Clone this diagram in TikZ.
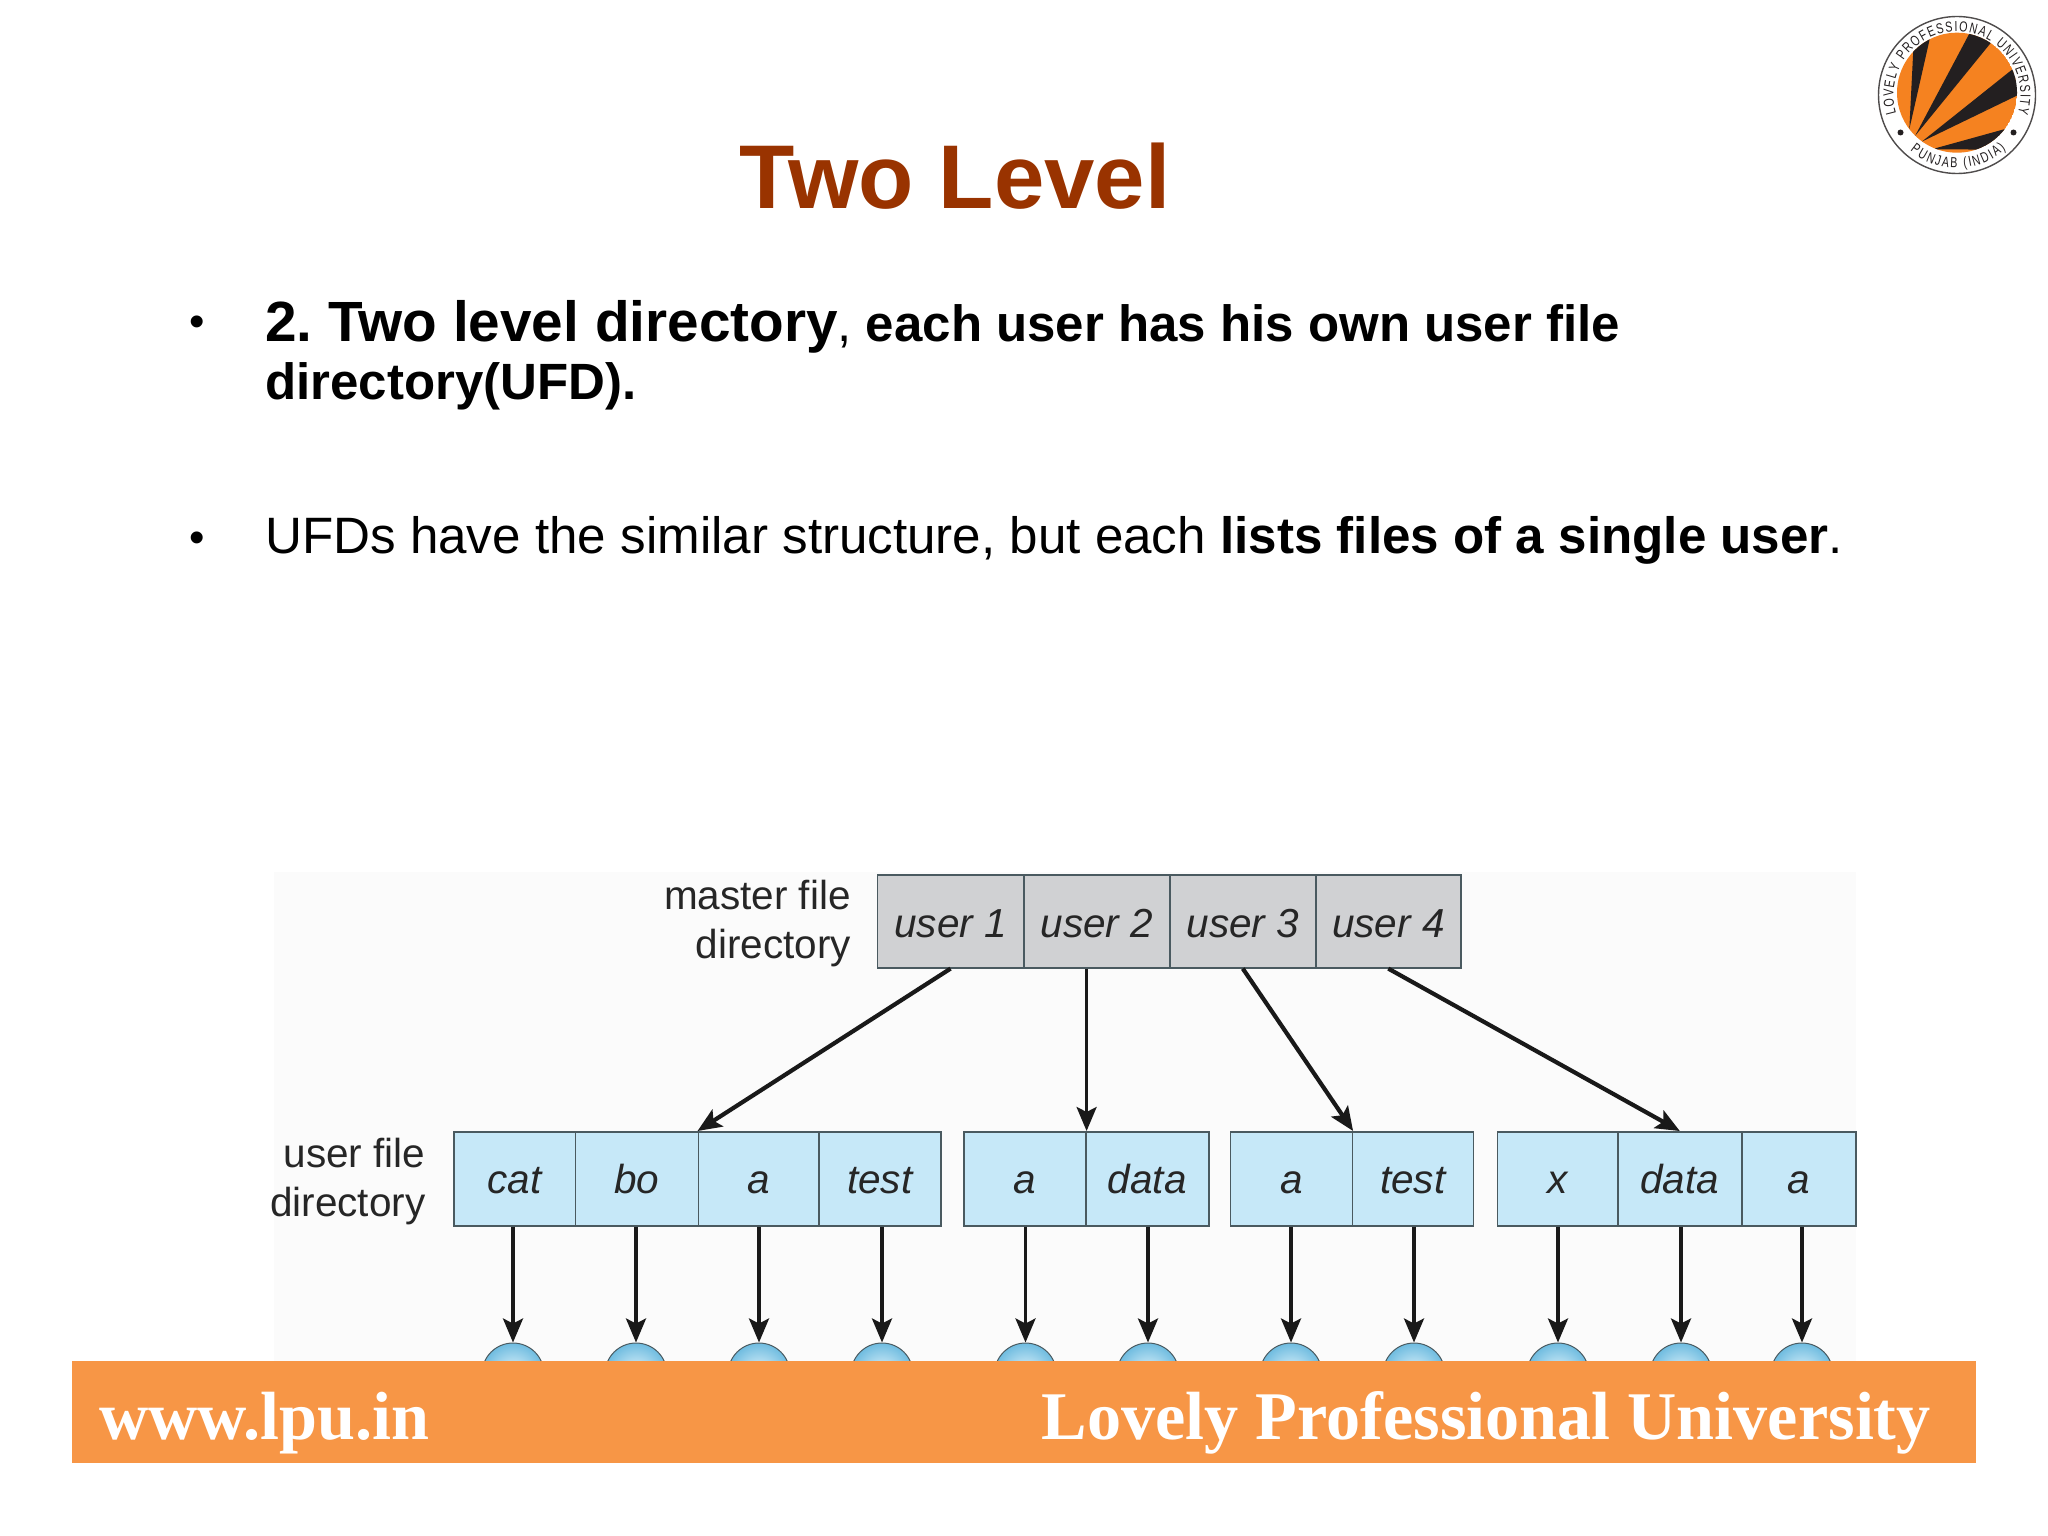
\documentclass[tikz,border=0pt]{standalone}
\usepackage{fontspec}
\setmainfont{Liberation Sans}
\newfontfamily\tms{Liberation Serif}
\newfontfamily\logof[FakeStretch=0.74]{Liberation Sans}
\usetikzlibrary{arrows.meta,decorations.text,calc}
\frenchspacing
\definecolor{titlec}{HTML}{993300}
\definecolor{bandc}{HTML}{F79646}
\definecolor{cellblue}{HTML}{C6E8F8}
\definecolor{cellgray}{HTML}{D0D1D3}
\definecolor{edgec}{HTML}{4A5A60}
\definecolor{logoor}{HTML}{F58220}
\definecolor{logobk}{HTML}{231F20}
\definecolor{ballin}{HTML}{E4F5FC}
\definecolor{ballout}{HTML}{6FBCE0}
\tikzset{
  x=1pt,y=-1pt,
  mfd/.style={draw=edgec,line width=1.6pt,fill=cellgray,minimum height=93pt,inner sep=0pt,anchor=north west,text height=33pt,text depth=0pt,font=\itshape\fontsize{40.5}{40}\selectfont,text=black!85},
  ufd/.style={draw=edgec,line width=1.6pt,fill=cellblue,minimum height=94pt,inner sep=0pt,anchor=north west,text height=30pt,text depth=0pt,font=\itshape\fontsize{40.5}{40}\selectfont,text=black!85},
  lab/.style={align=right,anchor=base east,inner sep=0pt,font=\fontsize{40.5}{48.5}\selectfont,text=black!85},
  fileball/.style={circle,draw=edgec,line width=1pt,minimum size=62pt,inner sep=0pt,inner color=ballin,outer color=ballout},
  arr/.style={-{Stealth[length=24pt,width=20pt,inset=5pt]},line width=3.4pt,draw=black!90},
  slant/.style={arr,line width=4.2pt},
  bodyt/.style={anchor=base west,inner sep=0pt,text=black},
  bandt/.style={inner sep=0pt,text=white,font=\tms\bfseries\fontsize{68.2}{68}\selectfont},
}
\begin{document}
\begin{tikzpicture}
\useasboundingbox (0,0) rectangle (2048,1536);
\fill[white] (0,0) rectangle (2048,1536);
% figure background
\fill[black!1.5] (274,872) rectangle (1856,1361);
% title
\node[anchor=base,inner sep=0pt,text=titlec,font=\bfseries\fontsize{90.5}{90}\selectfont] (title) at (955,208) {Two Level};
% bullets
\node[bodyt,font=\fontsize{44}{44}\selectfont] (b1) at (189,336) {•};
\node[bodyt] (t1) at (265,341) {\fontsize{56.7}{57}\selectfont\bfseries 2. Two level directory\fontsize{51}{51}\selectfont\mdseries, \bfseries each user has his own user file};
\node[bodyt,font=\bfseries\fontsize{51}{51}\selectfont] (t2) at (265,399) {directory(UFD).};
\node[bodyt,font=\fontsize{44}{44}\selectfont] (b2) at (189,552) {•};
\node[bodyt,font=\fontsize{51.15}{51}\selectfont] (t3) at (265,553.5) {UFDs have the similar structure, but each \textbf{lists files of a single user}.};
% master file directory
\node[mfd,minimum width=146.5pt] (u1) at (876.5,874) {user 1};
\node[mfd,minimum width=146pt] (u2) at (1023,874) {user 2};
\node[mfd,minimum width=146pt] (u3) at (1169,874) {user 3};
\node[mfd,minimum width=145pt] (u4) at (1315,874) {user 4};
\node[lab] (mlab) at (851,958) {master file\\directory};
% user file directories
\node[lab] (ulab) at (425.5,1216) {user file\\directory};
\foreach \n/\t/\xa/\w in {c1/cat/453/121.5,c2/bo/574.5/123,c3/a/697.5/120.5,c4/test/818/122,
  d1/a/963/122,d2/data/1085/123,
  e1/a/1229.5/122,e2/test/1351.5/121,
  f1/x/1496.5/120.5,f2/data/1617/124,f3/a/1741/114}
  \node[ufd,minimum width=\w pt] (\n) at (\xa,1131) {\t};
% files
\foreach \n/\xa in {c1/513,c2/636,c3/759,c4/882,d1/1025.5,d2/1148,e1/1291,e2/1414,f1/1558,f2/1681,f3/1802}
  \node[fileball] (ball\n) at (\xa,1374) {};
\foreach \n in {c1,c2,c3,c4,d1,d2,e1,e2,f1,f2,f3}
  \draw[arr] (ball\n.north |- \n.south) -- (ball\n.north);
% links
\draw[slant] (u1.south) -- (c3.north west);
\draw[arr] (u2.south -| d1.north east) -- (d1.north east);
\draw[slant] (u3.south) -- (e1.north east);
\draw[slant] (u4.south) -- (f2.north);
% band
\fill[bandc] (72,1361) rectangle (1976,1463);
\node[bandt,anchor=base west] (www) at (99,1439) {www.lpu.in};
\node[bandt,anchor=base east] (lpu) at (1931,1439) {Lovely Professional University};
% logo
\begin{scope}[shift={(1957,95)},x=1pt,y=1pt]
  \fill[white] (0,0) circle (79);
  \draw[logobk!80,line width=1.4pt] (0,0) circle (78.5);
  \begin{scope}[shift={(0,2.3)}]
    \clip (0,0) circle (60);
    \fill[logoor] (0,0) circle (60);
    \fill[logobk] (-47.7,-36.6) -- (-43,57) -- (-24.3,67) -- cycle;
    \fill[logobk] (-42,-43.3) -- (16,66) -- (38,55) -- cycle;
    \fill[logobk] (-35.3,-49) -- (60,27) -- (68,1) -- cycle;
    \fill[logobk] (-25.3,-56.6) -- (60,-33) -- (48,-57) -- cycle;
  \end{scope}
  \fill[logobk] (-56.5,-37.5) circle (3);
  \fill[logobk] (56.5,-37.5) circle (3);
  \path[decorate,decoration={text along path,text align={fit to path},
    text={|\logof\fontsize{14.5}{14.5}\selectfont\color{logobk}|LOVELY PROFESSIONAL UNIVERSITY}}]
    (197:63.5) arc (197:-17:63.5);
  \path[decorate,decoration={text along path,text align={fit to path},
    text={|\logof\fontsize{14.5}{14.5}\selectfont\color{logobk}|PUNJAB (INDIA)}}]
    (230:73) arc (230:312:73);
\end{scope}
\end{tikzpicture}
\end{document}
